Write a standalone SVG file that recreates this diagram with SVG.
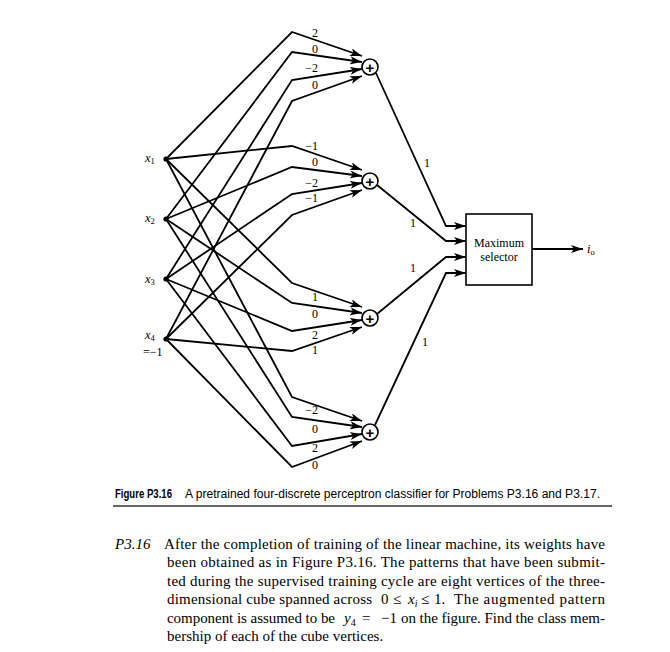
<svg xmlns="http://www.w3.org/2000/svg" width="670" height="652" viewBox="0 0 670 652">
<style>
.ln{fill:none;stroke:#000;stroke-width:1.8;stroke-linejoin:miter}
.ar{marker-end:url(#ah)}
.w{font-family:"Liberation Serif",serif;font-size:12px;fill:#000}
.we{font-family:"Liberation Serif",serif;font-size:12px;fill:#000;text-anchor:end}
.lab{font-family:"Liberation Serif",serif;font-size:12.5px;font-style:italic;fill:#000}
.sub{font-size:8.5px;font-style:normal}
.sum{fill:#fff;stroke:#000;stroke-width:1.6}
.plus{font-family:"Liberation Sans",sans-serif;font-size:15px;font-weight:bold;text-anchor:middle}
.body{font-family:"Liberation Serif",serif;font-size:15px;fill:#000}
.cap{font-family:"Liberation Sans",sans-serif;font-size:12px;fill:#000}
</style>
<defs>
<marker id="ah" markerUnits="userSpaceOnUse" markerWidth="13" markerHeight="9" refX="12" refY="4" orient="auto">
<path d="M0,0 L12,4 L0,8 L3,4 z" fill="#000"/>
</marker>
</defs>
<rect width="670" height="652" fill="#fff"/>
<g id="connectors">
<polyline class="ln ar" points="166,159 292,32 362,56"/>
<polyline class="ln ar" points="166,219 292,52 362,62"/>
<polyline class="ln ar" points="166,279 292,80 362,69"/>
<polyline class="ln ar" points="166,339 292,101 362,76"/>
<polyline class="ln ar" points="166,159 292,146 362,170"/>
<polyline class="ln ar" points="166,219 292,167 362,176"/>
<polyline class="ln ar" points="166,279 292,194 362,183"/>
<polyline class="ln ar" points="166,339 292,215 362,190"/>
<polyline class="ln ar" points="166,159 292,283 362,307"/>
<polyline class="ln ar" points="166,219 292,303 362,313"/>
<polyline class="ln ar" points="166,279 292,331 362,320"/>
<polyline class="ln ar" points="166,339 292,351 362,327"/>
<polyline class="ln ar" points="166,159 292,397 362,421"/>
<polyline class="ln ar" points="166,219 292,417 362,427"/>
<polyline class="ln ar" points="166,279 292,446 362,434"/>
<polyline class="ln ar" points="166,339 292,467 362,441"/>
<polyline class="ln ar" points="376,73 446,226 466,226"/>
<polyline class="ln ar" points="377,185 446,241 466,241"/>
<polyline class="ln ar" points="377,314 446,257 466,257"/>
<polyline class="ln ar" points="375,425 446,273 466,273"/>
<polyline class="ln ar" points="532,249 583,249"/>
</g>
<g id="weight-labels">
<text class="we" x="318" y="37">2</text>
<text class="we" x="318" y="53">0</text>
<text class="we" x="318" y="72">−2</text>
<text class="we" x="318" y="89">0</text>
<text class="we" x="318" y="150">−1</text>
<text class="we" x="318" y="166">0</text>
<text class="we" x="318" y="187">−2</text>
<text class="we" x="318" y="202">−1</text>
<text class="we" x="318" y="301">1</text>
<text class="we" x="318" y="318">0</text>
<text class="we" x="318" y="339">2</text>
<text class="we" x="318" y="354">1</text>
<text class="we" x="318" y="414">−2</text>
<text class="we" x="318" y="433">0</text>
<text class="we" x="318" y="452">2</text>
<text class="we" x="318" y="469">0</text>
<text class="w" x="424" y="167">1</text>
<text class="w" x="410" y="227">1</text>
<text class="w" x="410" y="272">1</text>
<text class="w" x="422" y="346">1</text>
</g>
<g id="x1"><circle cx="166" cy="159" r="2.6"/><text class="lab" x="145" y="162">x<tspan class="sub" dy="2">1</tspan></text></g>
<g id="x2"><circle cx="166" cy="219" r="2.6"/><text class="lab" x="145" y="222">x<tspan class="sub" dy="2">2</tspan></text></g>
<g id="x3"><circle cx="166" cy="279" r="2.6"/><text class="lab" x="145" y="283">x<tspan class="sub" dy="2">3</tspan></text></g>
<g id="x4"><circle cx="166" cy="339" r="2.6"/><text class="lab" x="145" y="339">x<tspan class="sub" dy="2">4</tspan></text><text class="w" x="143" y="356">=−1</text></g>
<g id="sum1"><circle class="sum" cx="370" cy="67" r="8"/><text class="plus" x="370" y="72.5">+</text></g>
<g id="sum2"><circle class="sum" cx="370" cy="181" r="8"/><text class="plus" x="370" y="186.5">+</text></g>
<g id="sum3"><circle class="sum" cx="370" cy="318" r="8"/><text class="plus" x="370" y="323.5">+</text></g>
<g id="sum4"><circle class="sum" cx="370" cy="432" r="8"/><text class="plus" x="370" y="437.5">+</text></g>
<g id="maxsel">
<rect x="466" y="214" width="66" height="71" fill="#fff" stroke="#000" stroke-width="1.6"/>
<text class="w" x="499" y="247" text-anchor="middle" font-size="11.5">Maximum</text>
<text class="w" x="499" y="261" text-anchor="middle" font-size="11.5">selector</text>
</g>
<g id="output"><text class="lab" x="587" y="253">i<tspan class="sub" dy="2">o</tspan></text></g>
<g id="caption">
<text class="cap" x="115" y="498" font-weight="bold" textLength="57" lengthAdjust="spacingAndGlyphs">Figure P3.16</text>
<text class="cap" x="185" y="498" textLength="415" lengthAdjust="spacingAndGlyphs">A pretrained four-discrete perceptron classifier for Problems P3.16 and P3.17.</text>
<line x1="113" y1="506" x2="612" y2="506" stroke="#333" stroke-width="1.5"/>
</g>
<g id="problem">
<text class="body" x="115" y="549" font-style="italic">P3.16</text>
<text class="body" x="164" y="549" textLength="441" lengthAdjust="spacing">After the completion of training of the linear machine, its weights have</text>
<text class="body" x="167" y="567" textLength="438" lengthAdjust="spacing">been obtained as in Figure P3.16. The patterns that have been submit-</text>
<text class="body" x="167" y="586" textLength="438" lengthAdjust="spacing">ted during the supervised training cycle are eight vertices of the three-</text>
<text class="body" x="167" y="604" textLength="205" lengthAdjust="spacing">dimensional cube spanned across</text>
<text class="body" x="381" y="604">0</text>
<text class="body" x="393" y="604">≤</text>
<text class="body" x="408" y="604" font-style="italic">x<tspan font-size="10" dy="3">i</tspan></text>
<text class="body" x="421" y="604">≤</text>
<text class="body" x="434" y="604">1.</text>
<text class="body" x="454" y="604" textLength="151" lengthAdjust="spacing">The augmented pattern</text>
<text class="body" x="167" y="623" textLength="168" lengthAdjust="spacing">component is assumed to be</text>
<text class="body" x="344" y="623" font-style="italic">y<tspan font-size="10" font-style="normal" dy="3">4</tspan></text>
<text class="body" x="362" y="623">=</text>
<text class="body" x="381" y="623">−1</text>
<text class="body" x="401" y="623" textLength="204" lengthAdjust="spacing">on the figure. Find the class mem-</text>
<text class="body" x="167" y="641">bership of each of the cube vertices.</text>
</g>
</svg>
